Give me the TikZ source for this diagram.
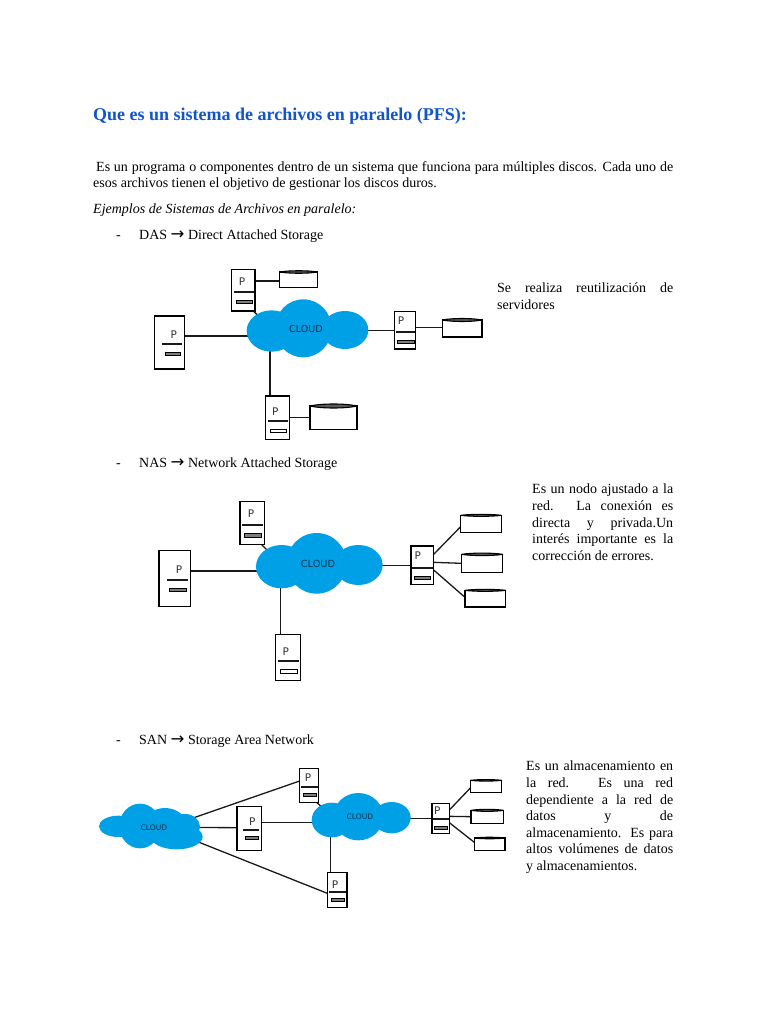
\documentclass[tikz,border=0pt]{standalone}
\usepackage{fontspec}
\setmainfont{Liberation Serif}
\newfontfamily\labelfont{DejaVu Sans}
\usetikzlibrary{backgrounds}
\definecolor{cloudblue}{RGB}{0,160,230}
\definecolor{titleblue}{RGB}{17,85,204}
\definecolor{cloudtext}{RGB}{10,50,80}
\definecolor{slotgrey}{RGB}{125,125,125}
\newcommand{\arrowsign}{{\labelfont\fontsize{16.5}{16}\selectfont →}}
\newcommand{\justpar}[2]{\parbox[t]{#1}{\hyphenpenalty=10000 \tolerance=10000 \relax #2}}
\tikzset{
  bodytext/.style={inner sep=0pt,font=\fontsize{14}{16.6}\selectfont,anchor=base west},
  parablock/.style={inner sep=0pt,anchor=north west,font=\fontsize{14}{16.6}\selectfont},
  box/.style={draw=black,line width=1.35pt,inner sep=0pt,outer sep=0pt},
  conn/.style={draw=black!90,line width=1.3pt},
  cloudlabel/.style={inner sep=0pt,text=cloudtext},
  plabel/.style={inner sep=0pt,text=black!80,font=\fontsize{10.5}{11}\labelfont},
}
% name x0 y0 x1 y1 (scope units = 1/3 px)
\newcommand{\boxnode}[5]{%
  \pgfmathsetmacro{\bw}{(#4-#2)/3}\pgfmathsetmacro{\bh}{(#5-#3)/3}%
  \node[box,minimum width=\bw pt,minimum height=\bh pt] (#1) at ({(#2+#4)/2},{(#3+#5)/2}) {};}
\newcommand{\srvP}[3]{\node[plabel] (#1) at (#2,#3) {P};}
\newcommand{\srvbar}[3]{\draw[line width=2.2pt,black!90] (#1,#3) -- (#2,#3);}
\newcommand{\srvslot}[5][slotgrey]{\draw[line width=0.9pt,fill=#1] (#2,#4) rectangle (#3,#5);}
% x0 x1 ytop bulge
\newcommand{\disktop}[4]{\draw[line width=1.1pt,line join=round,fill=black!65] (#1,#3) .. controls ({#1+(#2-#1)*0.25},{#3-#4}) and ({#1+(#2-#1)*0.75},{#3-#4}) .. (#2,#3) .. controls ({#1+(#2-#1)*0.75},{#3+#4}) and ({#1+(#2-#1)*0.25},{#3+#4}) .. (#1,#3) -- cycle;}
\newcommand{\lobe}[4]{\fill[cloudblue] (#1,#2) ellipse [x radius=#3,y radius=#4];}
\begin{document}
\begin{tikzpicture}[x=1pt,y=-1pt]
\useasboundingbox (0,0) rectangle (768,1024);
% ---------- text ----------
\node[inner sep=0pt,anchor=base west,text=titleblue,font=\fontsize{18}{20}\selectfont\bfseries] (title) at (93,121) {Que es un sistema de archivos en paralelo (PFS):};
\node[parablock] (intro) at (96,161) {\justpar{577pt}{Es un programa o componentes dentro de un sistema que funciona para múltiples discos. Cada uno de\linebreak}};
\node[bodytext] (introb) at (93,188) {esos archivos tienen el objetivo de gestionar los discos duros.};
\node[bodytext,font=\fontsize{14}{16.6}\selectfont\itshape] (ej) at (93,214) {Ejemplos de Sistemas de Archivos en paralelo:};
\node[bodytext] (dash1) at (116,240) {-};
\node[bodytext] (das) at (139,240) {DAS \arrowsign{} Direct Attached Storage};
\node[bodytext] (dash2) at (116,467) {-};
\node[bodytext] (nas) at (139,467) {NAS \arrowsign{} Network Attached Storage};
\node[bodytext] (dash3) at (116,744) {-};
\node[bodytext] (san) at (139,744) {SAN \arrowsign{} Storage Area Network};
\node[parablock] (t1) at (497,283) {\justpar{176pt}{Se realiza reutilización de\linebreak servidores}};
\node[parablock] (t2) at (532,484) {\justpar{141pt}{Es un nodo ajustado a la\linebreak red. La conexión es\linebreak directa y privada.Un\linebreak interés importante es la\linebreak corrección de errores.}};
\node[parablock] (t3) at (526,761) {\justpar{147pt}{Es un almacenamiento en\linebreak la red. Es una red\linebreak dependiente a la red de\linebreak datos y de\linebreak almacenamiento. Es para\linebreak altos volúmenes de datos\linebreak y almacenamientos.}};
% ---------- DAS ----------
\begin{scope}[shift={(140,250)},x=0.33333pt,y=-0.33333pt]
\boxnode{a1}{43}{198}{133}{357}\srvP{a1p}{101}{255}\srvbar{67}{127}{283}\srvslot{75}{122}{307}{317}
\boxnode{a2}{275}{58}{345}{183}\srvP{a2p}{306}{95}\srvbar{282}{342}{127}\srvslot{289}{336}{151}{160}
\boxnode{a3}{764}{185}{827}{297}\srvP{a3p}{783}{212}\srvbar{767}{825}{247}\srvslot{772}{822}{271}{280}
\boxnode{a4}{377}{438}{449}{568}\srvP{a4p}{406}{486}\srvbar{384}{443}{513}\srvslot[white]{390}{438}{537}{547}
\boxnode{ad2}{419}{66}{533}{112}\disktop{419}{533}{66}{5}
\boxnode{ad3}{907}{210}{1026}{261}\disktop{907}{1026}{210}{6}
\boxnode{ad4}{510}{468}{651}{538}\disktop{510}{651}{468}{8}
\lobe{395}{243}{75}{62}\lobe{490}{235}{85}{87}\lobe{615}{240}{70}{57}
\node[cloudlabel,font=\fontsize{9.6}{10}\labelfont] (ac) at (498,237) {CLOUD};
\begin{scope}[on background layer]
\draw[conn] (a1.east |- 0,258) -- (ac |- 0,258);
\draw[conn] (a2.south -| 340,0) -- ++(20,20);
\draw[conn] (a3.west |- 0,241) -- (ac |- 0,241);
\draw[conn] (a4.north -| 390,0) -- (ac -| 390,0);
\draw[conn] (a2.east |- 0,93) -- (ad2.west |- 0,93);
\draw[conn] (a3.east |- 0,233) -- (ad3.west |- 0,233);
\draw[conn] (a4.east |- 0,503) -- (ad4.west |- 0,503);
\end{scope}
\end{scope}
% ---------- NAS ----------
\begin{scope}[shift={(140,480)},x=0.33333pt,y=-0.33333pt]
\boxnode{b1}{57}{211}{152}{379}\srvP{b1p}{117}{270}\srvbar{82}{145}{300}\srvslot{88}{140}{325}{335}
\boxnode{b2}{300}{64}{373}{194}\srvP{b2p}{333}{102}\srvbar{307}{368}{135}\srvslot{313}{365}{161}{171}
\boxnode{b3}{813}{198}{881}{314}\srvP{b3p}{833}{227}\srvbar{816}{878}{263}\srvslot{823}{872}{288}{298}
\boxnode{b4}{407}{464}{482}{602}\srvP{b4p}{437}{514}\srvbar{414}{476}{543}\srvslot[white]{421}{472}{569}{579}
\boxnode{bd1}{962}{106}{1084}{157}\disktop{962}{1084}{106}{4}
\boxnode{bd2}{965}{223}{1088}{277}\disktop{965}{1088}{223}{5}
\boxnode{bd3}{975}{331}{1097}{381}\disktop{975}{1097}{331}{4}
\lobe{425}{260}{77}{65}\lobe{530}{250}{90}{91}\lobe{655}{255}{73}{60}
\node[cloudlabel,font=\fontsize{9.8}{10}\labelfont] (bc) at (534,252) {CLOUD};
\begin{scope}[on background layer]
\draw[conn] (b1.east |- 0,273) -- (bc |- 0,273);
\draw[conn] (b2.south -| 365,0) -- ++(20,20);
\draw[conn] (b3.west |- 0,256) -- (bc |- 0,256);
\draw[conn] (b4.north -| 422,0) -- (bc -| 422,0);
\draw[conn] (b3.east |- 0,223) -- (bd1.west |- 0,140);
\draw[conn] (b3.east |- 0,247) -- (bd2.west |- 0,250);
\draw[conn] (b3.east |- 0,270) -- (bd3.west |- 0,352);
\end{scope}
\end{scope}
% ---------- SAN ----------
\begin{scope}[shift={(90,755)},x=0.33333pt,y=-0.33333pt]
\boxnode{c1}{441}{155}{514}{286}\srvP{c1p}{487}{201}\srvbar{460}{508}{224}\srvslot{466}{505}{243}{252}
\boxnode{c2}{629}{41}{686}{142}\srvP{c2p}{654}{69}\srvbar{634}{684}{96}\srvslot{640}{680}{115}{124}
\boxnode{c3}{1026}{145}{1078}{236}\srvP{c3p}{1042}{167}\srvbar{1028}{1076}{192}\srvslot{1034}{1072}{213}{222}
\boxnode{c4}{712}{352}{771}{457}\srvP{c4p}{735}{390}\srvbar{716}{768}{412}\srvslot{723}{763}{431}{440}
\boxnode{cd1}{1142}{76}{1235}{112}\disktop{1142}{1235}{76}{3}
\boxnode{cd2}{1143}{166}{1240}{206}\disktop{1143}{1240}{166}{4}
\boxnode{cd3}{1153}{249}{1245}{286}\disktop{1153}{1245}{249}{3}
\lobe{85}{214}{58}{32}\lobe{150}{213}{62}{67}\lobe{225}{212}{65}{53}\lobe{285}{215}{45}{38}\lobe{260}{245}{78}{38}
\lobe{725}{195}{60}{52}\lobe{805}{185}{75}{71}\lobe{905}{188}{57}{47}
\node[cloudlabel,font=\fontsize{7.6}{8}\labelfont] (cl) at (192,217) {CLOUD};
\node[cloudlabel,font=\fontsize{7.6}{8}\labelfont] (cr) at (810,186) {CLOUD};
\begin{scope}[on background layer]
\draw[conn] (c2.west |- 0,78) -- ++(-379,131.5);
\draw[conn] (c1.west |- 0,218) -- (cl);
\draw[conn] (c4.west |- 0,415) -- ++(-432,-172);
\draw[conn] (c1.east |- 0,203) -- (cr |- 0,203);
\draw[conn] (c2.south -| 680,0) -- ++(24,22);
\draw[conn] (c3.west |- 0,190) -- (cr |- 0,190);
\draw[conn] (c4.north -| 722,0) -- (cr -| 722,0);
\draw[conn] (c3.east |- 0,165) -- (cd1.west |- 0,98);
\draw[conn] (c3.east |- 0,184) -- (cd2.west |- 0,185);
\draw[conn] (c3.east |- 0,203) -- (cd3.west |- 0,262);
\end{scope}
\end{scope}
\end{tikzpicture}
\end{document}
